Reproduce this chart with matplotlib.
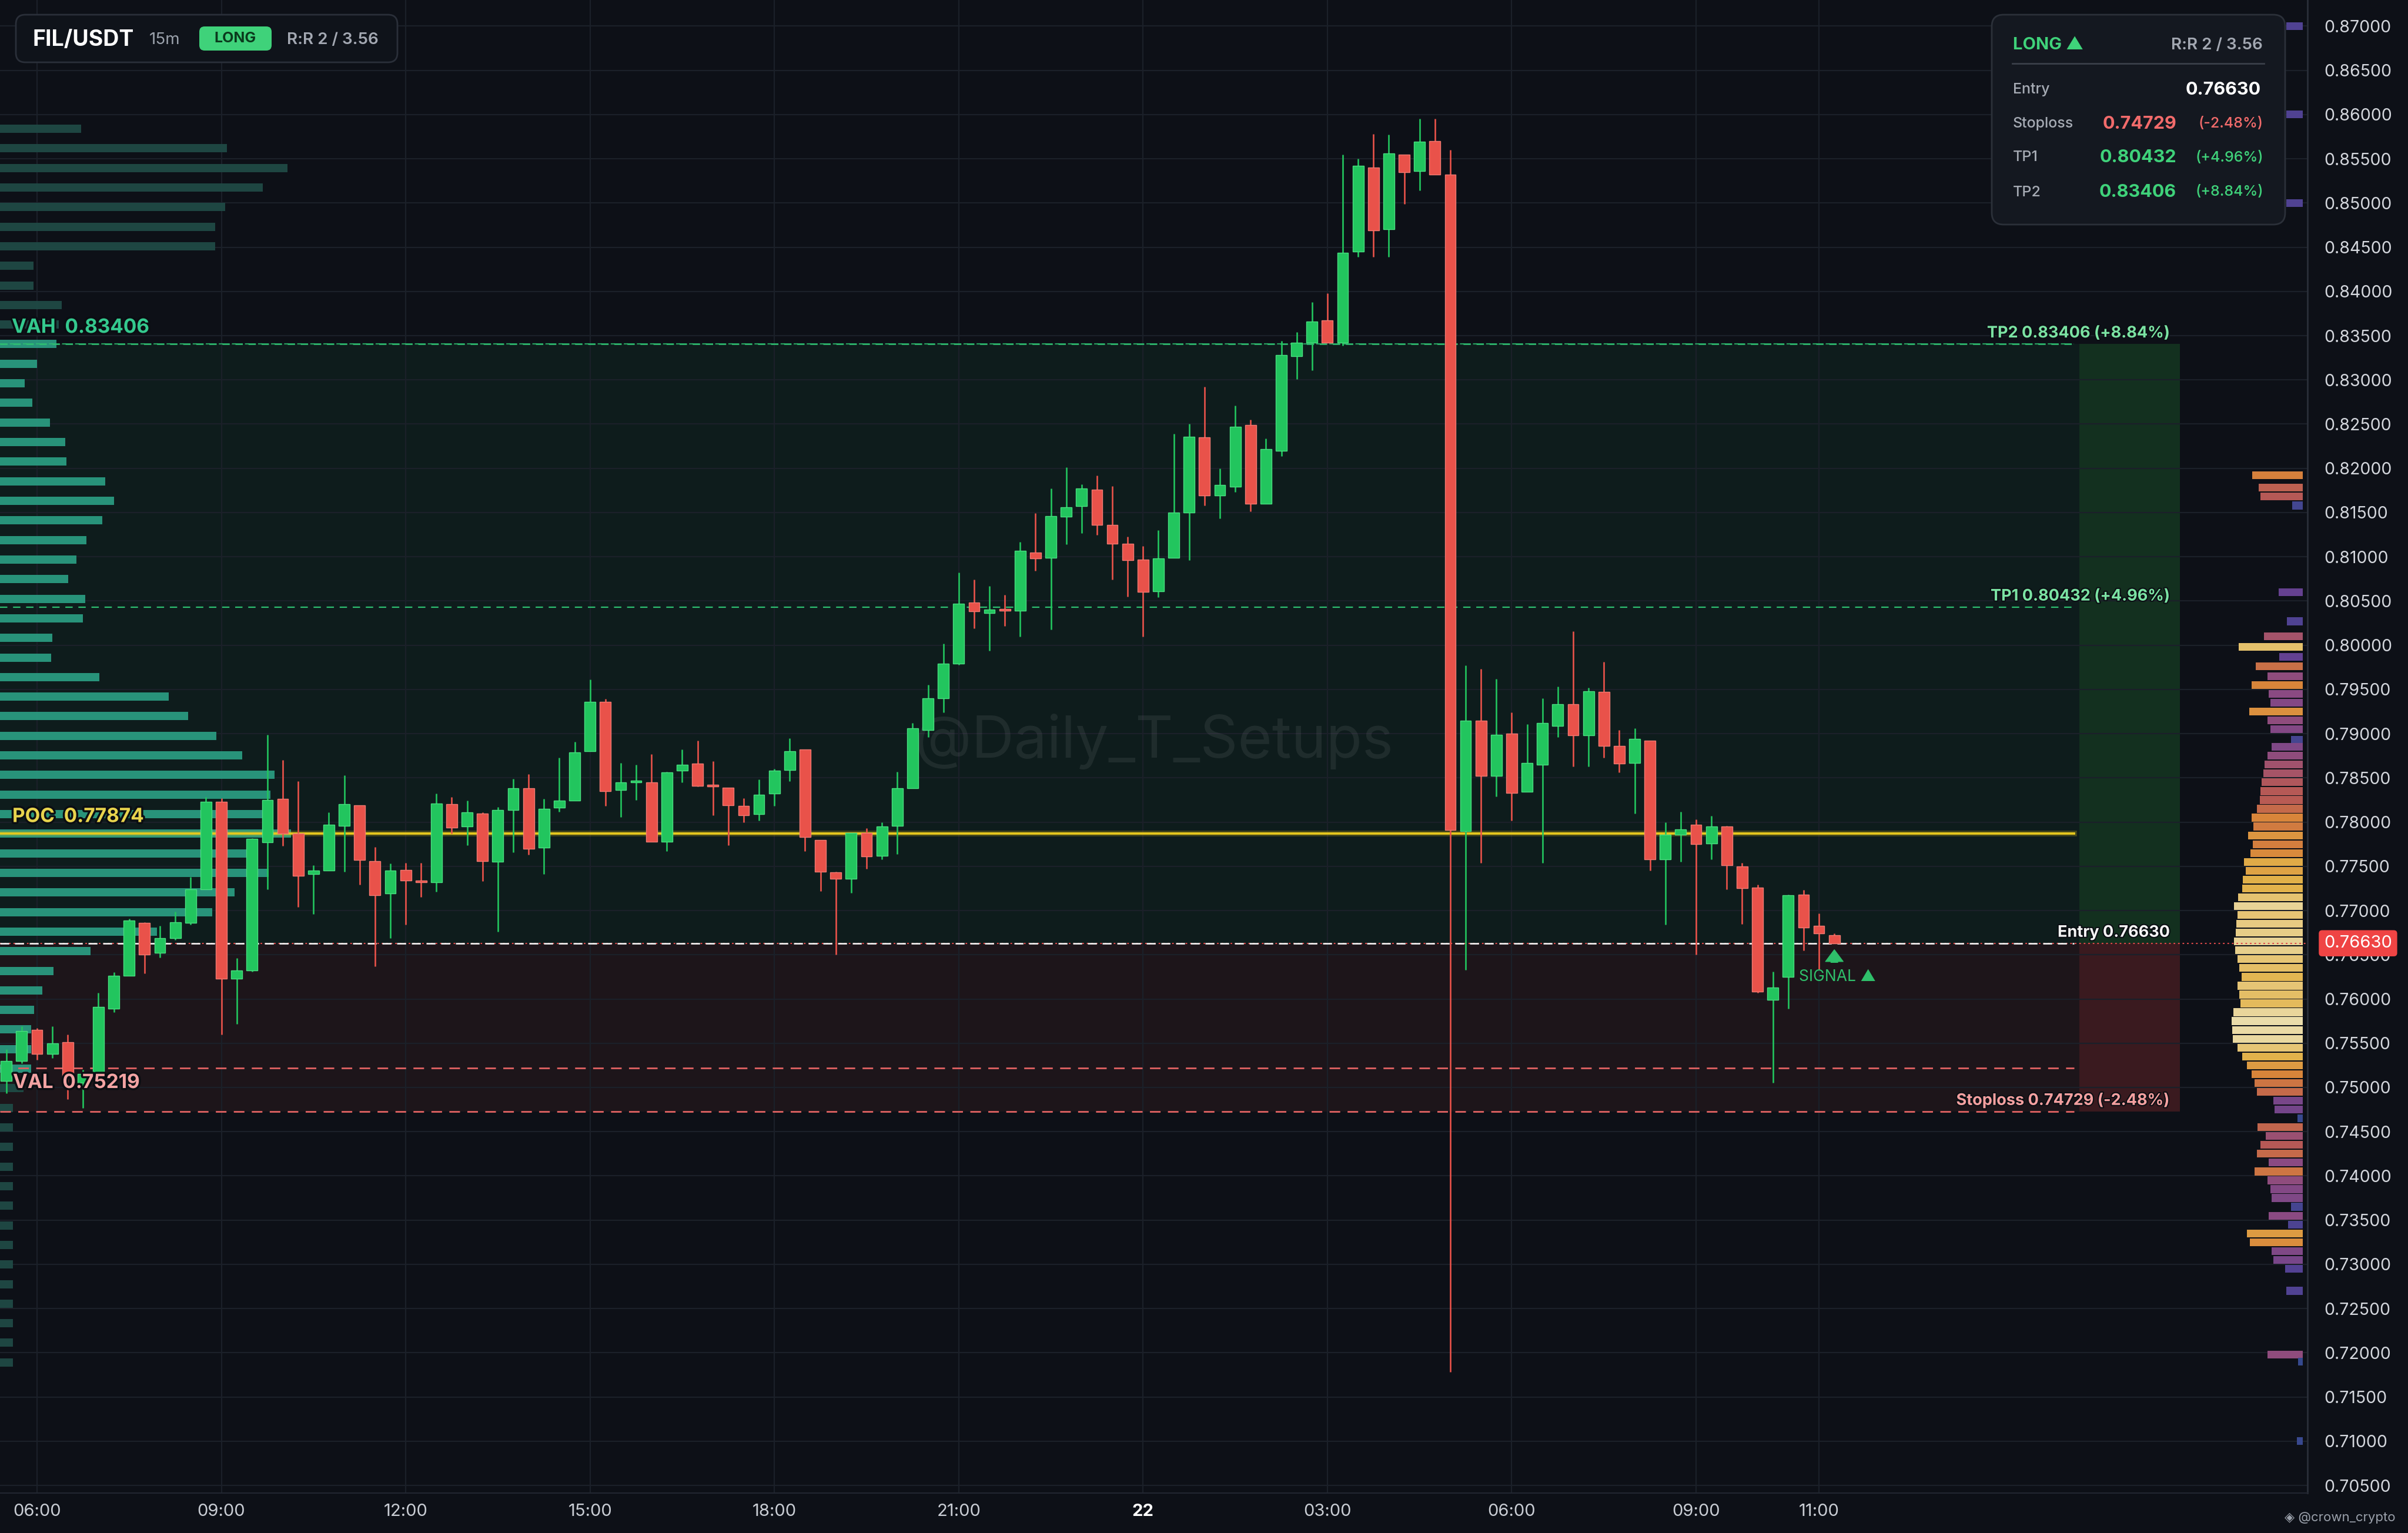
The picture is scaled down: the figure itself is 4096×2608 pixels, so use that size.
import numpy as np
import matplotlib
matplotlib.use('Agg')
import matplotlib.pyplot as plt
import matplotlib.transforms as mtransforms
import matplotlib.patheffects as pe
from matplotlib.patches import FancyBboxPatch, Rectangle
from matplotlib.colors import LinearSegmentedColormap

plt.rcParams['font.family'] = ['Inter', 'DejaVu Sans']
plt.rcParams['lines.scale_dashes'] = False

# ---------------- data ----------------
opens = [0.7507, 0.7530, 0.7565, 0.7538, 0.7551, 0.7505, 0.7515, 0.7589, 0.7626, 0.7686,
         0.7652, 0.7669, 0.7686, 0.7724, 0.7823, 0.7623, 0.7632, 0.7777, 0.7826, 0.7787,
         0.7741, 0.7745, 0.7796, 0.7819, 0.7756, 0.7719, 0.7746, 0.7734, 0.7732, 0.7820,
         0.7795, 0.7810, 0.7755, 0.7814, 0.7838, 0.7771, 0.7816, 0.7824, 0.7880, 0.7936,
         0.7836, 0.7845, 0.7845, 0.7778, 0.7858, 0.7866, 0.7842, 0.7839, 0.7818, 0.7809,
         0.7832, 0.7859, 0.7882, 0.7780, 0.7743, 0.7736, 0.7788, 0.7762, 0.7796, 0.7838,
         0.7904, 0.7940, 0.7979, 0.8048, 0.8036, 0.8040, 0.8039, 0.8105, 0.8099, 0.8145,
         0.8157, 0.8176, 0.8136, 0.8115, 0.8097, 0.8061, 0.8099, 0.8150, 0.8235, 0.8169,
         0.8179, 0.8249, 0.8160, 0.8220, 0.8327, 0.8342, 0.8367, 0.8342, 0.8445, 0.8540,
         0.8470, 0.8555, 0.8536, 0.8570, 0.8532, 0.7790, 0.7915, 0.7852, 0.7900, 0.7834,
         0.7865, 0.7909, 0.7933, 0.7898, 0.7947, 0.7886, 0.7867, 0.7892, 0.7758, 0.7786,
         0.7797, 0.7776, 0.7795, 0.7750, 0.7726, 0.7599, 0.7625, 0.7718, 0.7683, 0.7672]
highs = [0.7543, 0.7569, 0.7567, 0.7569, 0.7560, 0.7520, 0.7607, 0.7630, 0.7691, 0.7687,
         0.7683, 0.7699, 0.7738, 0.7828, 0.7827, 0.7646, 0.7782, 0.7899, 0.7870, 0.7846,
         0.7751, 0.7811, 0.7853, 0.7819, 0.7772, 0.7753, 0.7754, 0.7754, 0.7832, 0.7828,
         0.7824, 0.7811, 0.7817, 0.7849, 0.7854, 0.7826, 0.7873, 0.7891, 0.7961, 0.7939,
         0.7867, 0.7865, 0.7877, 0.7857, 0.7882, 0.7892, 0.7869, 0.7839, 0.7827, 0.7848,
         0.7860, 0.7895, 0.7882, 0.7780, 0.7744, 0.7788, 0.7793, 0.7800, 0.7857, 0.7912,
         0.7955, 0.8002, 0.8082, 0.8074, 0.8067, 0.8057, 0.8117, 0.8149, 0.8177, 0.8201,
         0.8182, 0.8192, 0.8180, 0.8123, 0.8112, 0.8130, 0.8239, 0.8250, 0.8292, 0.8200,
         0.8271, 0.8255, 0.8234, 0.8344, 0.8354, 0.8388, 0.8398, 0.8555, 0.8550, 0.8578,
         0.8577, 0.8555, 0.8595, 0.8595, 0.8560, 0.7977, 0.7973, 0.7962, 0.7924, 0.7911,
         0.7940, 0.7953, 0.8016, 0.7952, 0.7981, 0.7904, 0.7906, 0.7892, 0.7800, 0.7812,
         0.7803, 0.7807, 0.7796, 0.7754, 0.7729, 0.7631, 0.7718, 0.7723, 0.7697, 0.7674]
lows = [0.7493, 0.7527, 0.7531, 0.7533, 0.7487, 0.7477, 0.7514, 0.7585, 0.7626, 0.7629,
        0.7647, 0.7667, 0.7684, 0.7724, 0.7560, 0.7572, 0.7631, 0.7724, 0.7773, 0.7704,
        0.7696, 0.7745, 0.7744, 0.7729, 0.7637, 0.7669, 0.7684, 0.7715, 0.7721, 0.7787,
        0.7774, 0.7733, 0.7676, 0.7766, 0.7763, 0.7741, 0.7812, 0.7824, 0.7880, 0.7818,
        0.7806, 0.7825, 0.7778, 0.7767, 0.7845, 0.7840, 0.7808, 0.7774, 0.7800, 0.7802,
        0.7818, 0.7846, 0.7767, 0.7722, 0.7650, 0.7720, 0.7747, 0.7758, 0.7764, 0.7838,
        0.7896, 0.7924, 0.7978, 0.8019, 0.7994, 0.8022, 0.8010, 0.8084, 0.8018, 0.8114,
        0.8127, 0.8125, 0.8074, 0.8055, 0.8010, 0.8054, 0.8099, 0.8096, 0.8158, 0.8143,
        0.8173, 0.8151, 0.8160, 0.8214, 0.8301, 0.8311, 0.8342, 0.8339, 0.8439, 0.8439,
        0.8439, 0.8499, 0.8514, 0.8532, 0.7178, 0.7633, 0.7754, 0.7829, 0.7802, 0.7834,
        0.7754, 0.7896, 0.7863, 0.7863, 0.7873, 0.7856, 0.7810, 0.7745, 0.7684, 0.7755,
        0.7650, 0.7758, 0.7724, 0.7685, 0.7607, 0.7505, 0.7589, 0.7655, 0.7633, 0.7663]
closes = [0.7530, 0.7564, 0.7538, 0.7550, 0.7512, 0.7515, 0.7591, 0.7626, 0.7689, 0.7650,
          0.7669, 0.7687, 0.7724, 0.7823, 0.7623, 0.7632, 0.7781, 0.7825, 0.7787, 0.7739,
          0.7745, 0.7797, 0.7820, 0.7757, 0.7717, 0.7745, 0.7734, 0.7732, 0.7821, 0.7794,
          0.7811, 0.7756, 0.7814, 0.7838, 0.7770, 0.7815, 0.7824, 0.7879, 0.7936, 0.7835,
          0.7845, 0.7846, 0.7778, 0.7856, 0.7865, 0.7841, 0.7840, 0.7819, 0.7808, 0.7831,
          0.7858, 0.7880, 0.7783, 0.7744, 0.7736, 0.7788, 0.7761, 0.7795, 0.7838, 0.7906,
          0.7940, 0.7979, 0.8047, 0.8038, 0.8040, 0.8039, 0.8107, 0.8098, 0.8146, 0.8156,
          0.8177, 0.8136, 0.8115, 0.8096, 0.8060, 0.8098, 0.8150, 0.8236, 0.8169, 0.8181,
          0.8247, 0.8160, 0.8222, 0.8328, 0.8342, 0.8366, 0.8342, 0.8444, 0.8542, 0.8469,
          0.8556, 0.8535, 0.8569, 0.8532, 0.7791, 0.7915, 0.7852, 0.7899, 0.7833, 0.7867,
          0.7912, 0.7933, 0.7898, 0.7948, 0.7886, 0.7866, 0.7894, 0.7758, 0.7786, 0.7792,
          0.7775, 0.7795, 0.7751, 0.7725, 0.7608, 0.7613, 0.7717, 0.7681, 0.7674, 0.7663]

time_tick_pos = [2, 14, 26, 38, 50, 62, 74, 86, 98, 110, 118]
time_tick_labels = ['06:00', '09:00', '12:00', '15:00', '18:00', '21:00', '22',
                    '03:00', '06:00', '09:00', '11:00']

symbol = 'FIL/USDT'
timeframe = '15m'
side = 'LONG'
rr_text = 'R:R 2 / 3.56'
entry = 0.76630
stoploss = 0.74729
tp1 = 0.80432
tp2 = 0.83406
poc = 0.77874
vah = 0.83406
val = 0.75219
sl_pct = '-2.48%'
tp1_pct = '+4.96%'
tp2_pct = '+8.84%'

# left volume profile: 64 bins from top (max high) to bottom (min low)
vp_left_vol = [138, 386, 489, 447, 383, 366, 366, 57, 57, 105,
               100, 96, 63, 42, 55, 85, 111, 113, 179, 194,
               174, 147, 130, 116, 145, 141, 89, 87, 169, 287,
               320, 368, 412, 467, 460, 463, 495, 439, 457, 399,
               361, 267, 154, 91, 72, 58, 53, 53, 53, 40,
               22, 22, 22, 22, 22, 22, 22, 22, 22, 22,
               22, 22, 22, 22]

# right (session) volume profile
vp_right_price = [0.8700, 0.8600, 0.8500, 0.8192, 0.8178, 0.8168, 0.8158, 0.8060, 0.8027, 0.8010,
                  0.7998, 0.7987, 0.7976, 0.7965, 0.7955, 0.7945, 0.7935, 0.7925, 0.7915, 0.7905,
                  0.7893, 0.7885, 0.7875, 0.7865, 0.7855, 0.7845, 0.7835, 0.7825, 0.7815, 0.7805,
                  0.7795, 0.7785, 0.7775, 0.7765, 0.7755, 0.7745, 0.7735, 0.7725, 0.7715, 0.7705,
                  0.7695, 0.7685, 0.7675, 0.7665, 0.7655, 0.7645, 0.7635, 0.7625, 0.7615, 0.7605,
                  0.7595, 0.7585, 0.7575, 0.7565, 0.7555, 0.7545, 0.7535, 0.7525, 0.7515, 0.7505,
                  0.7495, 0.7485, 0.7475, 0.7465, 0.7455, 0.7445, 0.7435, 0.7425, 0.7415, 0.7405,
                  0.7395, 0.7385, 0.7375, 0.7365, 0.7355, 0.7345, 0.7335, 0.7325, 0.7315, 0.7305,
                  0.7295, 0.7270, 0.7198, 0.7190, 0.7100]
vp_right_vol = [28, 28, 28, 86, 75, 72, 18, 41, 27, 66,
                109, 40, 80, 60, 87, 58, 55, 91, 60, 55,
                20, 53, 60, 65, 67, 70, 72, 73, 78, 87,
                84, 93, 85, 89, 100, 97, 102, 103, 110, 117,
                111, 113, 114, 117, 115, 111, 108, 104, 111, 108,
                106, 118, 121, 120, 119, 111, 103, 95, 87, 82,
                78, 50, 48, 9, 77, 63, 72, 78, 58, 82,
                60, 55, 53, 20, 58, 25, 95, 90, 53, 50,
                30, 28, 60, 8, 10]

# ---------------- style ----------------
BG = '#0d1017'
GRID = '#1b2029'
GREEN = '#22c55e'
RED = '#e9524a'
W, H, DPI = 4096, 2608, 100

fig = plt.figure(figsize=(W / DPI, H / DPI), dpi=DPI, facecolor=BG)
AXR, AXB = 3925, 2540
ax = fig.add_axes([0, 1 - AXB / H, AXR / W, AXB / H])
ax.set_facecolor(BG)
XMIN, XMAX = -0.41, 149.8
YMIN, YMAX = 0.70414, 0.87295
PX = mtransforms.Affine2D().scale(1 / DPI) + fig.dpi_scale_trans
def T(y):
    return H - y

px_per_bar = 26.13

# zones
ZONE_END = 134.95
BOX_END = 141.5
ax.add_patch(Rectangle((XMIN, entry), ZONE_END - XMIN, tp2 - entry, fc='#0e1c1c', ec='none', zorder=0.2))
ax.add_patch(Rectangle((XMIN, stoploss), ZONE_END - XMIN, entry - stoploss, fc='#1d151a', ec='none', zorder=0.2))
ax.add_patch(Rectangle((ZONE_END, entry), BOX_END - ZONE_END, tp2 - entry, fc='#13301f', ec='none', zorder=0.2))
ax.add_patch(Rectangle((ZONE_END, stoploss), BOX_END - ZONE_END, entry - stoploss, fc='#3a1a1f', ec='none', zorder=0.2))

# grid / axes
ax.set_xlim(XMIN, XMAX)
ax.set_ylim(YMIN, YMAX)
yt = np.round(np.arange(0.705, 0.87001, 0.005), 3)
ax.set_yticks(yt)
ax.set_yticklabels([f'{v:.5f}' for v in yt])
ax.set_xticks(time_tick_pos)
ax.set_xticklabels(time_tick_labels)
ax.set_axisbelow(True)
ax.grid(True, color=GRID, lw=1.6)
ax.yaxis.tick_right()
ax.tick_params(axis='y', length=0, pad=20, labelsize=20.5, labelcolor='#d4d7dd')
ax.tick_params(axis='x', length=0, pad=13, labelsize=21, labelcolor='#c9cdd4')
for lab in ax.get_xticklabels():
    if lab.get_text() == '22':
        lab.set_fontweight('bold')
        lab.set_color('#ffffff')
for s in ['top', 'left']:
    ax.spines[s].set_visible(False)
ax.spines['right'].set_color('#2a2f39')
ax.spines['right'].set_linewidth(2)
ax.spines['bottom'].set_color('#222731')
ax.spines['bottom'].set_linewidth(1.5)

# left volume profile
lo, hi = min(lows), max(highs)
nb = len(vp_left_vol)
step = (hi - lo) / nb
centers = hi - (np.arange(nb) + 0.5) * step
vol = np.array(vp_left_vol, dtype=float)
widths = vol / vol.max() * (495 / px_per_bar)
in_va = (centers <= vah + step * 0.5) & (centers >= val - step * 0.5)
cols = np.where(in_va, '#2a9a80', '#1f4a45')
ax.barh(centers, widths, left=XMIN, height=step * 0.42, color=cols, alpha=0.95, zorder=0.8)

# right volume profile
cmap = LinearSegmentedColormap.from_list('vp', [(0, '#2b4c8c'), (0.3, '#5b3f94'), (0.48, '#8a4a82'),
                                               (0.6, '#b85a55'), (0.72, '#d8843a'), (0.85, '#e2b24a'),
                                               (1.0, '#eadcaa')])
rv = np.array(vp_right_vol, dtype=float)
rnorm = rv / rv.max()
rw = rnorm * (121 / px_per_bar)
xr = (3917 - 10.7) / px_per_bar
ax.barh(vp_right_price, rw, left=xr - rw, height=0.00088, color=cmap(rnorm), zorder=0.9)

# level lines
ax.plot([XMIN, ZONE_END - 0.35], [tp2, tp2], color='#2fbf71', lw=1.9, ls=(0, (9, 7)), zorder=3)
ax.plot([XMIN, ZONE_END - 0.35], [vah, vah], color='#2fbf71', lw=1.6, ls=(4, (5, 11)), alpha=0.8, zorder=3)
ax.plot([XMIN, ZONE_END - 0.35], [tp1, tp1], color='#2fbf71', lw=1.6, ls=(0, (9, 7)), zorder=3)
ax.plot([XMIN, ZONE_END - 0.35], [poc, poc], color='#e6c81e', lw=7, alpha=0.25, zorder=3)
ax.plot([XMIN, ZONE_END - 0.35], [poc, poc], color='#e6c81e', lw=2.8, zorder=3)
ax.plot([XMIN, XMAX], [entry, entry], color='#e04a4a', lw=1.5, ls=(0, (2, 3.5)), zorder=3)
ax.plot([XMIN, ZONE_END - 0.35], [entry, entry], color='#f2f2f2', lw=1.9, ls=(0, (11, 7)), zorder=3.1)
ax.plot([XMIN, ZONE_END - 0.35], [val, val], color='#e06262', lw=2.0, ls=(0, (13, 9)), zorder=3)
ax.plot([XMIN, ZONE_END - 0.35], [stoploss, stoploss], color='#e06262', lw=2.0, ls=(0, (13, 9)), zorder=3)

# candles
o = np.array(opens); c = np.array(closes); h = np.array(highs); l = np.array(lows)
x = np.arange(len(o))
up = c >= o
ccol = np.where(up, GREEN, RED)
ecol = np.where(up, '#4ade80', '#f07a72')
ax.vlines(x, l, h, colors=ccol, lw=1.9, zorder=4)
ax.bar(x, np.maximum(np.abs(c - o), 0.0002), bottom=np.minimum(o, c), width=0.72,
       color=ccol, edgecolor=ecol, linewidth=1.0, zorder=5)

# watermark
ax.text(74.7, 0.7891, '@Daily_T_Setups', fontsize=72, color='white', alpha=0.07,
        ha='center', va='center', zorder=2)

# level labels
stroke = [pe.withStroke(linewidth=5, foreground='#0b0e13')]
ax.annotate('VAH  0.83406', xy=(XMIN, vah), xytext=(20, 12), textcoords='offset pixels',
            ha='left', va='bottom', fontsize=24, fontweight='bold', color='#34c98e', zorder=7, path_effects=stroke)
ax.annotate('POC  0.77874', xy=(XMIN, poc), xytext=(21, 12), textcoords='offset pixels',
            ha='left', va='bottom', fontsize=24, fontweight='bold', color='#e8d44d', zorder=7, path_effects=stroke)
ax.annotate('VAL  0.75219', xy=(XMIN, val), xytext=(22, -9), textcoords='offset pixels',
            ha='left', va='top', fontsize=24, fontweight='bold', color='#f2a3a3', zorder=7, path_effects=stroke)

RLX = 140.85
for txt, yv, colr in [(f'TP2 {tp2:.5f} ({tp2_pct})', tp2, '#7be3a3'),
                      (f'TP1 {tp1:.5f} ({tp1_pct})', tp1, '#7be3a3'),
                      (f'Entry {entry:.5f}', entry, '#f4f4f4'),
                      (f'Stoploss {stoploss:.5f} ({sl_pct})', stoploss, '#f4a0a0')]:
    ax.annotate(txt, xy=(RLX, yv), xytext=(0, 5), textcoords='offset pixels', ha='right', va='bottom',
                fontsize=19.5, fontweight='bold', color=colr, zorder=7,
                path_effects=[pe.withStroke(linewidth=3, foreground='#0b0e13')])

# signal
ax.annotate('', xy=(119, 0.76575), xytext=(119, 0.76395),
            arrowprops=dict(arrowstyle='simple,head_length=0.6,head_width=0.9,tail_width=0.35',
                            color='#2fbf6a', mutation_scale=24), zorder=7)
ax.text(116.7, 0.76249, 'SIGNAL ▲', color='#2fbf6a', fontsize=19, ha='left', va='center', zorder=7)

# price tag
ax.text(3953 / W, entry, f'{entry:.5f}', transform=mtransforms.blended_transform_factory(fig.transFigure, ax.transData),
        fontsize=21, color='white', ha='left', va='center', zorder=10, clip_on=False,
        bbox=dict(boxstyle='round,pad=0.3,rounding_size=0.2', fc='#ef4444', ec='none'))

# top-left info box
fig.add_artist(FancyBboxPatch((27, T(106)), 649, 81, boxstyle='round,pad=0,rounding_size=16',
                              transform=PX, fc='#0f131a', ec='#2a2f39', lw=2))
fig.text(56, T(68), symbol, transform=PX, fontsize=27, fontweight='bold', color='white', va='center')
fig.text(254, T(68), timeframe, transform=PX, fontsize=20, color='#9aa1ab', va='center')
fig.add_artist(FancyBboxPatch((339, T(86)), 123, 41, boxstyle='round,pad=0,rounding_size=9',
                              transform=PX, fc='#3fd27a', ec='none'))
fig.text(400, T(66), side, transform=PX, fontsize=18, fontweight='bold', color='#0b3a1d', va='center', ha='center')
fig.text(488, T(68), rr_text, transform=PX, fontsize=20, fontweight='semibold', color='#a3a8b2', va='center')

# top-right trade panel
fig.add_artist(FancyBboxPatch((3388, T(382)), 499, 357, boxstyle='round,pad=0,rounding_size=20',
                              transform=PX, fc='#141820', ec='#2b3039', lw=2))
fig.text(3424, T(77), f'{side} ▲', transform=PX, fontsize=21, fontweight='bold', color='#3fd27a', va='center')
fig.text(3849, T(77), rr_text, transform=PX, fontsize=20, fontweight='semibold', color='#a3a8b2', va='center', ha='right')
fig.add_artist(plt.Line2D([3423, 3851], [T(108), T(108)], transform=PX, color='#3a3f49', lw=2))
rows = [('Entry', f'{entry:.5f}', None, '#ffffff', T(153)),
        ('Stoploss', f'{stoploss:.5f}', f'({sl_pct})', '#f26b6b', T(211)),
        ('TP1', f'{tp1:.5f}', f'({tp1_pct})', '#3fd27a', T(268)),
        ('TP2', f'{tp2:.5f}', f'({tp2_pct})', '#3fd27a', T(327))]
for lab, v, pct, colr, yy in rows:
    fig.text(3424, yy, lab, transform=PX, fontsize=18, fontweight='medium', color='#a6abb4', va='center')
    if pct is None:
        fig.text(3846, yy, v, transform=PX, fontsize=22, fontweight='bold', color=colr, va='center', ha='right')
    else:
        fig.text(3702, yy, v, transform=PX, fontsize=22, fontweight='bold', color=colr, va='center', ha='right')
        fig.text(3850, yy, pct, transform=PX, fontsize=18, fontweight='medium', color=colr, va='center', ha='right')

# credit
fig.text(3980, T(2582), '◈ @crown_crypto', transform=PX, fontsize=16, color='#9aa0aa', va='center', ha='center')

fig.savefig('out.png', dpi=DPI, facecolor=BG)
